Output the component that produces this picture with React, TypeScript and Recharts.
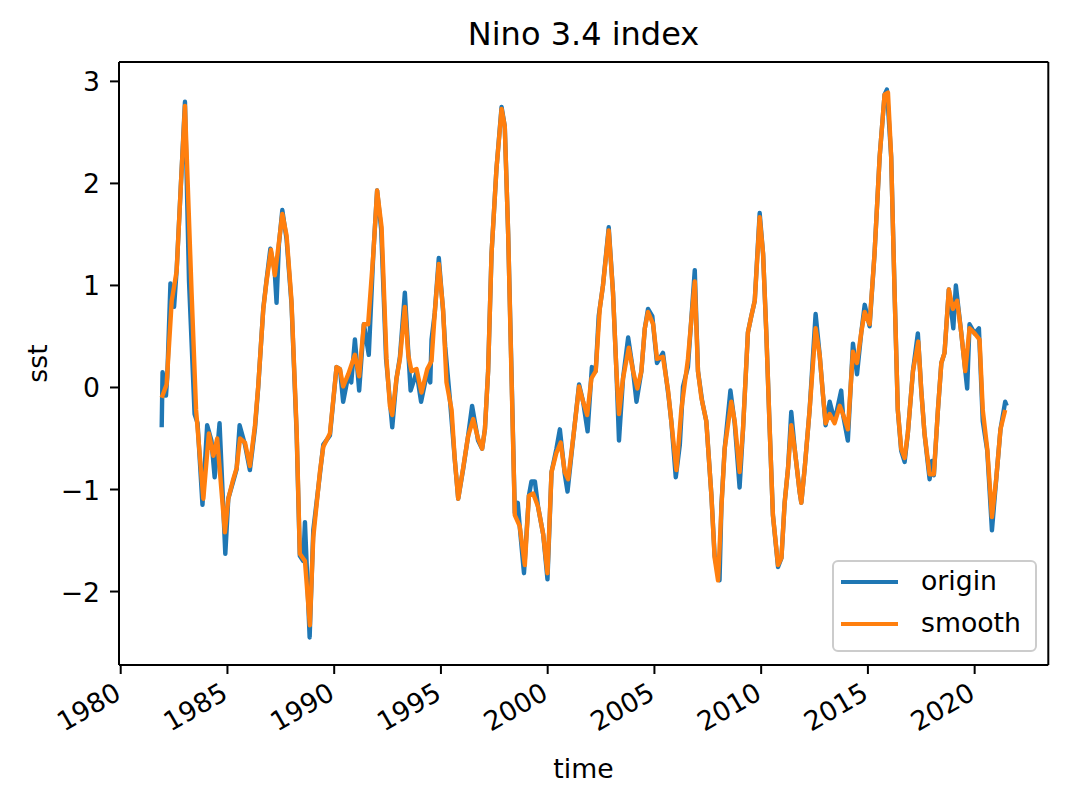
import { LineChart, Line, XAxis, YAxis, ReferenceLine, Legend } from "recharts"

// monthly-ish Nino 3.4 sst anomaly
const originTime = [
  1981.92, 1981.96, 1982.12, 1982.18, 1982.33, 1982.5, 1982.62, 1982.81, 1983.01, 1983.2,
  1983.46, 1983.6, 1983.83, 1984.05, 1984.25, 1984.4, 1984.5, 1984.63, 1984.9, 1985.04,
  1985.27, 1985.43, 1985.57, 1985.82, 1986.05, 1986.29, 1986.44, 1986.68, 1986.83, 1987.01,
  1987.21, 1987.3, 1987.41, 1987.57, 1987.77, 1988.0, 1988.24, 1988.39, 1988.55, 1988.63,
  1988.85, 1989.02, 1989.33, 1989.49, 1989.8, 1990.11, 1990.27, 1990.42, 1990.66, 1990.8,
  1990.97, 1991.17, 1991.39, 1991.62, 1991.83, 1992.01, 1992.2, 1992.43, 1992.72, 1992.92,
  1993.08, 1993.31, 1993.47, 1993.58, 1993.86, 1994.07, 1994.36, 1994.5, 1994.56, 1994.71,
  1994.9, 1995.1, 1995.2, 1995.43, 1995.65, 1995.81, 1996.04, 1996.27, 1996.46, 1996.74,
  1996.93, 1997.06, 1997.21, 1997.37, 1997.6, 1997.84, 1997.99, 1998.15, 1998.3, 1998.46,
  1998.6, 1998.69, 1998.89, 1999.12, 1999.24, 1999.4, 1999.55, 1999.79, 1999.99, 2000.18,
  2000.41, 2000.57, 2000.8, 2000.93, 2001.22, 2001.47, 2001.66, 2001.87, 2002.07, 2002.25,
  2002.39, 2002.59, 2002.86, 2003.06, 2003.22, 2003.34, 2003.53, 2003.77, 2004.0, 2004.16,
  2004.39, 2004.55, 2004.7, 2004.9, 2005.12, 2005.4, 2005.67, 2005.79, 2006.0, 2006.19,
  2006.34, 2006.57, 2006.89, 2007.04, 2007.24, 2007.43, 2007.67, 2007.82, 2008.05, 2008.14,
  2008.29, 2008.56, 2008.76, 2008.99, 2009.15, 2009.38, 2009.54, 2009.7, 2009.93, 2010.09,
  2010.24, 2010.4, 2010.55, 2010.79, 2010.95, 2011.1, 2011.26, 2011.41, 2011.57, 2011.8,
  2011.88, 2012.04, 2012.27, 2012.55, 2012.74, 2012.89, 2013.02, 2013.21, 2013.44, 2013.75,
  2013.83, 2014.06, 2014.3, 2014.49, 2014.69, 2014.85, 2015.08, 2015.31, 2015.55, 2015.78,
  2015.89, 2016.09, 2016.25, 2016.4, 2016.56, 2016.72, 2016.87, 2017.11, 2017.34, 2017.5,
  2017.65, 2017.89, 2018.0, 2018.09, 2018.28, 2018.44, 2018.59, 2018.79, 2019.0, 2019.12,
  2019.37, 2019.65, 2019.76, 2020.0, 2020.2, 2020.38, 2020.59, 2020.81, 2021.01, 2021.21,
  2021.43, 2021.5,
]
const originSst = [
  -0.39, 0.15, -0.08, 0.1, 1.02, 0.79, 1.15, 1.95, 2.8, 1.04,
  -0.26, -0.35, -1.15, -0.37, -0.52, -0.88, -0.67, -0.35, -1.63, -1.09,
  -0.92, -0.8, -0.37, -0.56, -0.81, -0.4, 0.0, 0.78, 1.05, 1.36,
  1.15, 0.83, 1.4, 1.74, 1.45, 0.82, -0.45, -1.65, -1.7, -1.32,
  -2.45, -1.4, -0.85, -0.56, -0.47, 0.2, 0.18, -0.14, 0.12, 0.05,
  0.47, -0.03, 0.62, 0.32, 1.3, 1.93, 1.55, 0.28, -0.39, 0.09,
  0.3, 0.93, 0.35, -0.03, 0.15, -0.14, 0.15, 0.05, 0.47, 0.73,
  1.27, 0.75, 0.4, -0.14, -0.71, -1.09, -0.8, -0.48, -0.18, -0.52,
  -0.6, -0.41, 0.16, 1.31, 2.14, 2.75, 2.56, 1.5, 0.2, -1.23,
  -1.13, -1.36, -1.82, -1.06, -0.92, -0.92, -1.17, -1.44, -1.88, -0.83,
  -0.6, -0.41, -0.85, -1.02, -0.45, 0.03, -0.14, -0.43, 0.2, 0.16,
  0.7, 1.0, 1.57, 0.93, 0.16, -0.52, 0.09, 0.49, 0.16, -0.14,
  0.16, 0.58, 0.77, 0.7, 0.24, 0.34, -0.1, -0.33, -0.88, -0.56,
  0.01, 0.2, 1.15, 0.16, -0.14, -0.33, -1.06, -1.65, -1.89, -1.15,
  -0.6, -0.03, -0.35, -0.98, -0.41, 0.54, 0.7, 0.85, 1.71, 1.31,
  0.54, -0.41, -1.25, -1.76, -1.67, -1.13, -0.79, -0.24, -0.6, -1.02,
  -1.13, -0.79, -0.22, 0.72, 0.32, -0.06, -0.37, -0.14, -0.33, -0.03,
  -0.26, -0.52, 0.43, 0.13, 0.54, 0.81, 0.6, 1.31, 2.26, 2.87,
  2.92, 2.26, 0.93, -0.22, -0.62, -0.73, -0.45, 0.16, 0.53, -0.03,
  -0.45, -0.9, -0.72, -0.86, -0.22, 0.24, 0.34, 0.96, 0.58, 1.0,
  0.54, -0.01, 0.62, 0.53, 0.58, -0.33, -0.62, -1.4, -0.9, -0.41,
  -0.14, -0.18,
]

const smoothTime = [
  1981.92, 1982.15, 1982.39, 1982.62, 1982.81, 1983.01, 1983.32, 1983.53, 1983.87, 1984.13,
  1984.34, 1984.52, 1984.88, 1985.04, 1985.27, 1985.43, 1985.59, 1985.82, 1986.05, 1986.29,
  1986.44, 1986.68, 1986.83, 1987.04, 1987.22, 1987.41, 1987.57, 1987.77, 1988.0, 1988.24,
  1988.39, 1988.63, 1988.86, 1989.02, 1989.33, 1989.49, 1989.8, 1990.11, 1990.27, 1990.42,
  1990.66, 1990.97, 1991.17, 1991.39, 1991.59, 1991.83, 1992.01, 1992.22, 1992.45, 1992.61,
  1992.72, 1992.92, 1993.08, 1993.31, 1993.47, 1993.62, 1993.86, 1994.09, 1994.36, 1994.56,
  1994.71, 1994.9, 1995.1, 1995.26, 1995.5, 1995.65, 1995.81, 1996.04, 1996.27, 1996.51,
  1996.74, 1996.93, 1997.06, 1997.21, 1997.37, 1997.6, 1997.84, 1997.99, 1998.15, 1998.3,
  1998.46, 1998.69, 1998.93, 1999.12, 1999.32, 1999.55, 1999.79, 1999.99, 2000.18, 2000.41,
  2000.61, 2000.8, 2000.96, 2001.22, 2001.47, 2001.66, 2001.85, 2002.05, 2002.25, 2002.44,
  2002.59, 2002.86, 2003.06, 2003.22, 2003.34, 2003.53, 2003.8, 2004.0, 2004.2, 2004.39,
  2004.55, 2004.7, 2004.94, 2005.12, 2005.4, 2005.64, 2005.79, 2006.03, 2006.26, 2006.57,
  2006.89, 2007.04, 2007.2, 2007.43, 2007.67, 2007.82, 2007.98, 2008.14, 2008.29, 2008.6,
  2008.76, 2008.99, 2009.15, 2009.38, 2009.54, 2009.7, 2009.93, 2010.09, 2010.24, 2010.4,
  2010.55, 2010.79, 2010.95, 2011.1, 2011.26, 2011.41, 2011.57, 2011.8, 2011.88, 2012.04,
  2012.27, 2012.55, 2012.74, 2012.89, 2013.02, 2013.21, 2013.44, 2013.68, 2013.83, 2014.06,
  2014.3, 2014.49, 2014.69, 2014.85, 2015.08, 2015.31, 2015.55, 2015.78, 2015.94, 2016.09,
  2016.25, 2016.4, 2016.56, 2016.72, 2016.87, 2017.11, 2017.36, 2017.5, 2017.65, 2017.89,
  2018.09, 2018.28, 2018.44, 2018.59, 2018.79, 2018.98, 2019.18, 2019.37, 2019.56, 2019.76,
  2020.0, 2020.23, 2020.38, 2020.59, 2020.81, 2021.01, 2021.21, 2021.43,
]
const smoothSst = [
  -0.1, 0.03, 0.85, 1.14, 1.95, 2.76, 0.93, -0.22, -1.09, -0.45,
  -0.67, -0.5, -1.42, -1.09, -0.9, -0.79, -0.5, -0.54, -0.77, -0.37,
  0.01, 0.77, 1.04, 1.35, 1.1, 1.42, 1.7, 1.49, 0.85, -0.41,
  -1.63, -1.7, -2.33, -1.47, -0.83, -0.58, -0.45, 0.2, 0.18, 0.01,
  0.13, 0.32, 0.11, 0.62, 0.62, 1.3, 1.93, 1.57, 0.28, -0.18,
  -0.27, 0.09, 0.28, 0.79, 0.32, 0.16, 0.18, -0.05, 0.18, 0.26,
  0.73, 1.21, 0.77, 0.05, -0.22, -0.71, -1.09, -0.79, -0.48, -0.31,
  -0.5, -0.6, -0.41, 0.16, 1.31, 2.14, 2.73, 2.56, 1.5, 0.16,
  -1.25, -1.36, -1.74, -1.06, -1.04, -1.17, -1.44, -1.82, -0.83, -0.64,
  -0.54, -0.83, -0.9, -0.45, 0.01, -0.14, -0.27, 0.09, 0.16, 0.77,
  1.0, 1.54, 0.93, 0.16, -0.26, 0.09, 0.39, 0.16, -0.01, 0.16,
  0.58, 0.74, 0.62, 0.28, 0.3, -0.03, -0.33, -0.81, -0.22, 0.28,
  1.04, 0.16, -0.1, -0.33, -1.06, -1.67, -1.89, -1.17, -0.6, -0.14,
  -0.33, -0.83, -0.41, 0.54, 0.7, 0.85, 1.67, 1.31, 0.54, -0.41,
  -1.25, -1.74, -1.67, -1.13, -0.79, -0.37, -0.6, -1.02, -1.13, -0.79,
  -0.22, 0.58, 0.32, -0.06, -0.35, -0.26, -0.35, -0.18, -0.26, -0.41,
  0.35, 0.24, 0.54, 0.74, 0.62, 1.31, 2.26, 2.87, 2.89, 2.26,
  0.93, -0.22, -0.6, -0.69, -0.45, 0.16, 0.45, -0.03, -0.45, -0.85,
  -0.85, -0.22, 0.24, 0.34, 0.96, 0.77, 0.85, 0.54, 0.16, 0.58,
  0.53, 0.47, -0.22, -0.6, -1.27, -0.9, -0.41, -0.22,
]

const yearTicks = [1980, 1985, 1990, 1995, 2000, 2005, 2010, 2015, 2020]
const sstTicks = [-2, -1, 0, 1, 2, 3]

const X_MIN = 1979.92
const X_MAX = 2023.45
const Y_MIN = -2.72
const Y_MAX = 3.19

const BLUE = "#1f77b4"
const ORANGE = "#ff7f0e"
const FONT = "'DejaVu Sans', Verdana, sans-serif"
const FS = 26.7

const originData = originTime.map((t, i) => ({ t, v: originSst[i] }))
const smoothData = smoothTime.map((t, i) => ({ t, v: smoothSst[i] }))

function XTick(props: any) {
  const { x, payload } = props
  const tx = x + 2
  const ty = 698
  return (
    <text
      x={tx}
      y={ty}
      transform={`rotate(-30, ${tx}, ${ty})`}
      textAnchor="end"
      fontFamily={FONT}
      fontSize={FS}
      fill="#000"
    >
      {payload.value}
    </text>
  )
}

function YTick(props: any) {
  const { y, payload } = props
  const label = String(payload.value).replace("-", "\u2212")
  return (
    <text x={100} y={y + 10} textAnchor="end" fontFamily={FONT} fontSize={FS} fill="#000">
      {label}
    </text>
  )
}

function LegendBox() {
  const row = (color: string, name: string, cy: number) => (
    <div key={name}>
      <div
        style={{ position: "absolute", left: 7, top: cy - 2, width: 57, height: 4, background: color }}
      />
      <div
        style={{
          position: "absolute",
          left: 87,
          top: cy - 17,
          lineHeight: "32px",
          fontSize: FS,
          fontFamily: FONT,
          color: "#000",
          whiteSpace: "nowrap",
        }}
      >
        {name}
      </div>
    </div>
  )
  return (
    <div
      style={{
        position: "relative",
        width: 205,
        height: 92,
        boxSizing: "border-box",
        border: "2.5px solid #cccccc",
        borderRadius: 6,
        background: "rgba(255,255,255,0.8)",
      }}
    >
      {row(BLUE, "origin", 20)}
      {row(ORANGE, "smooth", 61.5)}
    </div>
  )
}

export default function App() {
  return (
    <div style={{ position: "absolute", left: 0, top: 0, width: 1069, height: 804, background: "#fff" }}>
      <LineChart width={1069} height={804} margin={{ top: 62, right: 20.7, bottom: 0, left: 0 }}>
        <XAxis
          dataKey="t"
          type="number"
          domain={[X_MIN, X_MAX]}
          allowDataOverflow
          ticks={yearTicks}
          interval={0}
          height={139}
          tickSize={9}
          tick={<XTick />}
          tickLine={{ stroke: "#000", strokeWidth: 2 }}
          axisLine={{ stroke: "#000", strokeWidth: 2 }}
        />
        <YAxis
          type="number"
          domain={[Y_MIN, Y_MAX]}
          allowDataOverflow
          ticks={sstTicks}
          interval={0}
          width={119}
          tickSize={9}
          tick={<YTick />}
          tickLine={{ stroke: "#000", strokeWidth: 2 }}
          axisLine={{ stroke: "#000", strokeWidth: 2 }}
        />
        <ReferenceLine y={Y_MAX} stroke="#000" strokeWidth={2} ifOverflow="visible" />
        <ReferenceLine x={X_MAX} stroke="#000" strokeWidth={2} ifOverflow="visible" />
        <Line
          data={originData}
          dataKey="v"
          name="origin"
          type="linear"
          stroke={BLUE}
          strokeWidth={4.4}
          strokeLinejoin="round"
          dot={false}
          activeDot={false}
          isAnimationActive={false}
        />
        <Line
          data={smoothData}
          dataKey="v"
          name="smooth"
          type="linear"
          stroke={ORANGE}
          strokeWidth={4.4}
          strokeLinejoin="round"
          dot={false}
          activeDot={false}
          isAnimationActive={false}
        />
        <Legend
          layout="vertical"
          align="center"
          verticalAlign="middle"
          wrapperStyle={{ left: 832, top: 560, width: 205, height: 92 }}
          content={<LegendBox />}
        />
      </LineChart>
      <svg
        width={1069}
        height={804}
        style={{ position: "absolute", left: 0, top: 0, pointerEvents: "none" }}
      >
        <text x={583.5} y={45} textAnchor="middle" fontFamily={FONT} fontSize={32} fill="#000">
          Nino 3.4 index
        </text>
        <text x={583.5} y={778} textAnchor="middle" fontFamily={FONT} fontSize={FS} fill="#000">
          time
        </text>
        <text
          x={47}
          y={363.5}
          transform="rotate(-90, 47, 363.5)"
          textAnchor="middle"
          fontFamily={FONT}
          fontSize={FS}
          fill="#000"
        >
          sst
        </text>
      </svg>
    </div>
  )
}
